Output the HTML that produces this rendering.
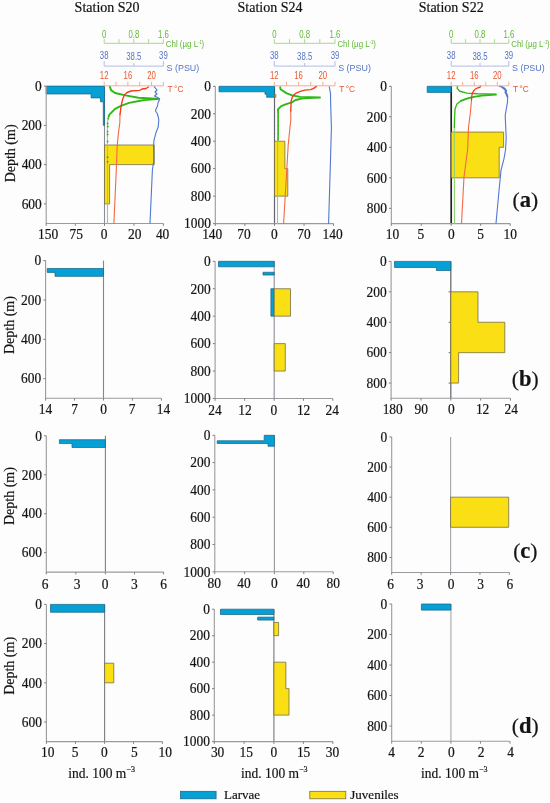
<!DOCTYPE html>
<html><head><meta charset="utf-8"><title>Figure</title>
<style>html,body{margin:0;padding:0;background:#fdfdfd;} svg{display:block;}</style>
</head><body>
<svg width="550" height="803" viewBox="0 0 550 803">
<style>
text{font-family:'Liberation Serif','Times New Roman',serif;fill:#141414;stroke:#141414;stroke-width:0.2px;}
.n{font-size:14px;}
.m{text-anchor:middle;}
.e{text-anchor:end;}
.c{font-family:'Liberation Sans',Arial,sans-serif;stroke:none;font-size:10.8px;}
.g{fill:#5fb834;} .b{fill:#5474c4;} .r{fill:#e9552e;}
.ax{stroke:#9a9a9e;stroke-width:1.1;fill:none;}
.tk{stroke:#808086;stroke-width:1;}
.bl{fill:#05a0d5;stroke:#1b6585;stroke-width:0.75;}
.ye{fill:#f9df14;stroke:#6f6845;stroke-width:0.75;}
.pl{fill:none;stroke-linejoin:round;stroke-linecap:round;}
</style>
<rect width="550" height="803" fill="#fdfdfd"/>
<text class="n m" x="107.1" y="11.9">Station S20</text>
<text class="n m" x="270.0" y="11.9">Station S24</text>
<text class="n m" x="451.2" y="11.9">Station S22</text>
<path d="M104.5 86.1V223.5" stroke="#8c8c98" stroke-width="1.1"/>
<polygon class="bl" points="104.5,86.1 46.2,86.1 46.2,93.95 91.1,93.95 91.1,97.88 100.4,97.88 100.4,101.8 103.3,101.8 103.3,125.36 104.5,125.36"/>
<polygon class="ye" points="104.5,144.99 154.3,144.99 154.3,164.61 109.6,164.61 109.6,203.87 104.5,203.87"/>
<path class="ax" d="M46.2 86.1V223.5H163.4"/>
<text class="n e" transform="translate(41.8 90.9) scale(0.96 1)">0</text>
<text class="n e" transform="translate(41.8 130.16) scale(0.96 1)">200</text>
<text class="n e" transform="translate(41.8 169.41) scale(0.96 1)">400</text>
<text class="n e" transform="translate(41.8 208.67) scale(0.96 1)">600</text>
<path class="tk" d="M43.9 86.1H46.2M43.9 125.36H46.2M43.9 164.61H46.2M43.9 203.87H46.2M46.2 223.5V225.8M75.35 223.5V225.8M104.5 223.5V225.8M133.95 223.5V225.8M163.4 223.5V225.8"/>
<text class="n m" transform="translate(48.1 239) scale(0.96 1)">150</text>
<text class="n m" transform="translate(76.2 239) scale(0.96 1)">75</text>
<text class="n m" transform="translate(104.2 239) scale(0.96 1)">0</text>
<text class="n m" transform="translate(134.8 239) scale(0.96 1)">20</text>
<text class="n m" transform="translate(162.6 239) scale(0.96 1)">40</text>
<path d="M274.5 86.3V223.6" stroke="#67636e" stroke-width="1.2"/>
<polygon class="bl" points="274.5,86.3 219,86.3 219,91.79 265,91.79 265,94.26 266.7,94.26 266.7,97.28 274.5,97.28"/>
<polygon class="ye" points="274.5,94.54 275.9,94.54 275.9,97.28 274.5,97.28"/>
<polygon class="ye" points="274.5,141.22 284.9,141.22 284.9,168.68 287.8,168.68 287.8,196.14 274.5,196.14"/>
<path class="ax" d="M215.3 86.3V223.6H333.6"/>
<text class="n e" transform="translate(210.9 91.1) scale(0.96 1)">0</text>
<text class="n e" transform="translate(210.9 118.56) scale(0.96 1)">200</text>
<text class="n e" transform="translate(210.9 146.02) scale(0.96 1)">400</text>
<text class="n e" transform="translate(210.9 173.48) scale(0.96 1)">600</text>
<text class="n e" transform="translate(210.9 200.94) scale(0.96 1)">800</text>
<text class="n e" transform="translate(210.9 228.4) scale(0.96 1)">1000</text>
<path class="tk" d="M213 86.3H215.3M213 113.76H215.3M213 141.22H215.3M213 168.68H215.3M213 196.14H215.3M213 223.6H215.3M215.3 223.6V225.9M244.9 223.6V225.9M274.5 223.6V225.9M304.05 223.6V225.9M333.6 223.6V225.9"/>
<text class="n m" transform="translate(212.2 239) scale(0.96 1)">140</text>
<text class="n m" transform="translate(244 239) scale(0.96 1)">70</text>
<text class="n m" transform="translate(274.3 239) scale(0.96 1)">0</text>
<text class="n m" transform="translate(304 239) scale(0.96 1)">70</text>
<text class="n m" transform="translate(332.6 239) scale(0.96 1)">140</text>
<path d="M451.2 86.3V223.6" stroke="#222228" stroke-width="1.7"/>
<polygon class="bl" points="451.2,86.3 427.2,86.3 427.2,92.4 451.2,92.4"/>
<polygon class="ye" points="451.2,132.07 503.6,132.07 503.6,147.32 499.2,147.32 499.2,177.83 451.2,177.83"/>
<path class="ax" d="M391.3 86.3V223.6H510.2"/>
<text class="n e" transform="translate(386.9 91.1) scale(0.96 1)">0</text>
<text class="n e" transform="translate(386.9 121.61) scale(0.96 1)">200</text>
<text class="n e" transform="translate(386.9 152.12) scale(0.96 1)">400</text>
<text class="n e" transform="translate(386.9 182.63) scale(0.96 1)">600</text>
<text class="n e" transform="translate(386.9 213.14) scale(0.96 1)">800</text>
<path class="tk" d="M389 86.3H391.3M389 116.81H391.3M389 147.32H391.3M389 177.83H391.3M389 208.34H391.3M391.3 223.6V225.9M421.25 223.6V225.9M451.2 223.6V225.9M480.7 223.6V225.9M510.2 223.6V225.9"/>
<text class="n m" transform="translate(392.5 239.2) scale(0.96 1)">10</text>
<text class="n m" transform="translate(420.8 239.2) scale(0.96 1)">5</text>
<text class="n m" transform="translate(451.3 239.2) scale(0.96 1)">0</text>
<text class="n m" transform="translate(480.7 239.2) scale(0.96 1)">5</text>
<text class="n m" transform="translate(510.3 239.2) scale(0.96 1)">10</text>
<path d="M103.5 260.6V398.3" stroke="#85858c" stroke-width="1.1"/>
<polygon class="bl" points="103.5,268.47 47.2,268.47 47.2,272.4 55,272.4 55,276.34 103.5,276.34"/>
<path class="ax" d="M45.6 260.6V398.3H161.4"/>
<text class="n e" transform="translate(41.2 265.4) scale(0.96 1)">0</text>
<text class="n e" transform="translate(41.2 304.74) scale(0.96 1)">200</text>
<text class="n e" transform="translate(41.2 344.09) scale(0.96 1)">400</text>
<text class="n e" transform="translate(41.2 383.43) scale(0.96 1)">600</text>
<path class="tk" d="M43.3 260.6H45.6M43.3 299.94H45.6M43.3 339.29H45.6M43.3 378.63H45.6M45.6 398.3V400.6M74.55 398.3V400.6M103.5 398.3V400.6M132.45 398.3V400.6M161.4 398.3V400.6"/>
<text class="n m" transform="translate(45.4 414.4) scale(0.96 1)">14</text>
<text class="n m" transform="translate(74.6 414.4) scale(0.96 1)">7</text>
<text class="n m" transform="translate(103.6 414.4) scale(0.96 1)">0</text>
<text class="n m" transform="translate(132.1 414.4) scale(0.96 1)">7</text>
<text class="n m" transform="translate(163.4 414.4) scale(0.96 1)">14</text>
<path d="M274.2 261.3V398.5" stroke="#8e8e98" stroke-width="1.1"/>
<polygon class="bl" points="274.2,261.3 218.5,261.3 218.5,266.79 274.2,266.79"/>
<polygon class="bl" points="274.2,272.28 263,272.28 263,275.02 274.2,275.02"/>
<polygon class="bl" points="274.2,288.74 270.9,288.74 270.9,316.18 274.2,316.18"/>
<polygon class="ye" points="274.2,288.74 290.5,288.74 290.5,316.18 274.2,316.18"/>
<polygon class="ye" points="274.2,343.62 285.3,343.62 285.3,371.06 274.2,371.06"/>
<path class="ax" d="M215.1 261.3V398.5H332.8"/>
<text class="n e" transform="translate(210.7 266.1) scale(0.96 1)">0</text>
<text class="n e" transform="translate(210.7 293.54) scale(0.96 1)">200</text>
<text class="n e" transform="translate(210.7 320.98) scale(0.96 1)">400</text>
<text class="n e" transform="translate(210.7 348.42) scale(0.96 1)">600</text>
<text class="n e" transform="translate(210.7 375.86) scale(0.96 1)">800</text>
<text class="n e" transform="translate(210.7 403.3) scale(0.96 1)">1000</text>
<path class="tk" d="M212.8 261.3H215.1M212.8 288.74H215.1M212.8 316.18H215.1M212.8 343.62H215.1M212.8 371.06H215.1M212.8 398.5H215.1M215.1 398.5V400.8M244.65 398.5V400.8M274.2 398.5V400.8M303.5 398.5V400.8M332.8 398.5V400.8"/>
<text class="n m" transform="translate(215 414.6) scale(0.96 1)">24</text>
<text class="n m" transform="translate(245 414.6) scale(0.96 1)">12</text>
<text class="n m" transform="translate(273.8 414.6) scale(0.96 1)">0</text>
<text class="n m" transform="translate(303.6 414.6) scale(0.96 1)">12</text>
<text class="n m" transform="translate(332.2 414.6) scale(0.96 1)">24</text>
<path d="M450.8 261.4V398.3" stroke="#6c6c74" stroke-width="1.3"/>
<path d="M448.6 291.82H450.8M448.6 322.24H450.8M448.6 352.67H450.8M448.6 383.09H450.8" stroke="#6c6c74" stroke-width="1"/>
<polygon class="bl" points="450.8,261.4 394.5,261.4 394.5,267.48 436.4,267.48 436.4,270.53 450.8,270.53"/>
<polygon class="ye" points="450.8,291.82 478,291.82 478,322.24 504.8,322.24 504.8,352.67 458.6,352.67 458.6,383.09 450.8,383.09"/>
<path class="ax" d="M391.1 261.4V398.3H510.5"/>
<text class="n e" transform="translate(386.7 266.2) scale(0.96 1)">0</text>
<text class="n e" transform="translate(386.7 296.62) scale(0.96 1)">200</text>
<text class="n e" transform="translate(386.7 327.04) scale(0.96 1)">400</text>
<text class="n e" transform="translate(386.7 357.47) scale(0.96 1)">600</text>
<text class="n e" transform="translate(386.7 387.89) scale(0.96 1)">800</text>
<path class="tk" d="M388.8 261.4H391.1M388.8 291.82H391.1M388.8 322.24H391.1M388.8 352.67H391.1M388.8 383.09H391.1M391.1 398.3V400.6M420.95 398.3V400.6M450.8 398.3V400.6M480.65 398.3V400.6M510.5 398.3V400.6"/>
<text class="n m" transform="translate(392.7 414.4) scale(0.96 1)">180</text>
<text class="n m" transform="translate(421.3 414.4) scale(0.96 1)">90</text>
<text class="n m" transform="translate(451.3 414.4) scale(0.96 1)">0</text>
<text class="n m" transform="translate(482.6 414.4) scale(0.96 1)">12</text>
<text class="n m" transform="translate(511.2 414.4) scale(0.96 1)">24</text>
<path d="M105.4 435.8V572.1" stroke="#808084" stroke-width="1.1"/>
<polygon class="bl" points="105.4,439.69 59.4,439.69 59.4,443.59 72,443.59 72,447.48 105.4,447.48"/>
<path class="ax" d="M46.3 435.8V572.1H163.6"/>
<text class="n e" transform="translate(41.9 440.6) scale(0.96 1)">0</text>
<text class="n e" transform="translate(41.9 479.54) scale(0.96 1)">200</text>
<text class="n e" transform="translate(41.9 518.49) scale(0.96 1)">400</text>
<text class="n e" transform="translate(41.9 557.43) scale(0.96 1)">600</text>
<path class="tk" d="M44 435.8H46.3M44 474.74H46.3M44 513.69H46.3M44 552.63H46.3M46.3 572.1V574.4M75.85 572.1V574.4M105.4 572.1V574.4M134.5 572.1V574.4M163.6 572.1V574.4"/>
<text class="n m" transform="translate(45 588.7) scale(0.96 1)">6</text>
<text class="n m" transform="translate(77 588.7) scale(0.96 1)">3</text>
<text class="n m" transform="translate(105.1 588.7) scale(0.96 1)">0</text>
<text class="n m" transform="translate(134.3 588.7) scale(0.96 1)">3</text>
<text class="n m" transform="translate(163.7 588.7) scale(0.96 1)">6</text>
<path d="M274.4 435.3V571.8" stroke="#969698" stroke-width="1.1"/>
<polygon class="bl" points="274.4,435.3 264.2,435.3 264.2,440.76 217.2,440.76 217.2,443.49 268,443.49 268,446.22 274.4,446.22"/>
<path class="ax" d="M214.8 435.3V571.8H333.2"/>
<text class="n e" transform="translate(210.4 440.1) scale(0.96 1)">0</text>
<text class="n e" transform="translate(210.4 467.4) scale(0.96 1)">200</text>
<text class="n e" transform="translate(210.4 494.7) scale(0.96 1)">400</text>
<text class="n e" transform="translate(210.4 522) scale(0.96 1)">600</text>
<text class="n e" transform="translate(210.4 549.3) scale(0.96 1)">800</text>
<text class="n e" transform="translate(210.4 576.6) scale(0.96 1)">1000</text>
<path class="tk" d="M212.5 435.3H214.8M212.5 462.6H214.8M212.5 489.9H214.8M212.5 517.2H214.8M212.5 544.5H214.8M212.5 571.8H214.8M214.8 571.8V574.1M244.6 571.8V574.1M274.4 571.8V574.1M303.8 571.8V574.1M333.2 571.8V574.1"/>
<text class="n m" transform="translate(214.2 588.3) scale(0.96 1)">80</text>
<text class="n m" transform="translate(244 588.3) scale(0.96 1)">40</text>
<text class="n m" transform="translate(274.3 588.3) scale(0.96 1)">0</text>
<text class="n m" transform="translate(303.3 588.3) scale(0.96 1)">40</text>
<text class="n m" transform="translate(333.2 588.3) scale(0.96 1)">80</text>
<path d="M450.6 436.9V572.5" stroke="#a4a4a8" stroke-width="1.1"/>
<polygon class="ye" points="450.6,497.17 508.7,497.17 508.7,527.3 450.6,527.3"/>
<path class="ax" d="M391.7 436.9V572.5H509.3"/>
<text class="n e" transform="translate(387.3 441.7) scale(0.96 1)">0</text>
<text class="n e" transform="translate(387.3 471.83) scale(0.96 1)">200</text>
<text class="n e" transform="translate(387.3 501.97) scale(0.96 1)">400</text>
<text class="n e" transform="translate(387.3 532.1) scale(0.96 1)">600</text>
<text class="n e" transform="translate(387.3 562.23) scale(0.96 1)">800</text>
<path class="tk" d="M389.4 436.9H391.7M389.4 467.03H391.7M389.4 497.17H391.7M389.4 527.3H391.7M389.4 557.43H391.7M391.7 572.5V574.8M421.15 572.5V574.8M450.6 572.5V574.8M479.95 572.5V574.8M509.3 572.5V574.8"/>
<text class="n m" transform="translate(390.7 588.7) scale(0.96 1)">6</text>
<text class="n m" transform="translate(420.2 588.7) scale(0.96 1)">3</text>
<text class="n m" transform="translate(451.2 588.7) scale(0.96 1)">0</text>
<text class="n m" transform="translate(480.7 588.7) scale(0.96 1)">3</text>
<text class="n m" transform="translate(509.8 588.7) scale(0.96 1)">6</text>
<path d="M104.6 604.4V741.6" stroke="#7c7c84" stroke-width="1.1"/>
<polygon class="bl" points="104.6,604.4 50.5,604.4 50.5,612.24 104.6,612.24"/>
<polygon class="ye" points="104.6,663.2 113.8,663.2 113.8,682.8 104.6,682.8"/>
<path class="ax" d="M46.4 604.4V741.6H162.4"/>
<text class="n e" transform="translate(42 609.2) scale(0.96 1)">0</text>
<text class="n e" transform="translate(42 648.4) scale(0.96 1)">200</text>
<text class="n e" transform="translate(42 687.6) scale(0.96 1)">400</text>
<text class="n e" transform="translate(42 726.8) scale(0.96 1)">600</text>
<path class="tk" d="M44.1 604.4H46.4M44.1 643.6H46.4M44.1 682.8H46.4M44.1 722H46.4M46.4 741.6V743.9M75.5 741.6V743.9M104.6 741.6V743.9M133.5 741.6V743.9M162.4 741.6V743.9"/>
<text class="n m" transform="translate(47.7 756.8) scale(0.96 1)">10</text>
<text class="n m" transform="translate(75.1 756.8) scale(0.96 1)">5</text>
<text class="n m" transform="translate(104.3 756.8) scale(0.96 1)">0</text>
<text class="n m" transform="translate(134.3 756.8) scale(0.96 1)">5</text>
<text class="n m" transform="translate(165.2 756.8) scale(0.96 1)">10</text>
<path d="M273.9 609.2V741.6" stroke="#8a8a90" stroke-width="1.3"/>
<polygon class="bl" points="273.9,609.2 220.5,609.2 220.5,614.5 273.9,614.5"/>
<polygon class="bl" points="273.9,617.14 257.7,617.14 257.7,620.06 273.9,620.06"/>
<polygon class="ye" points="273.9,622.44 278.6,622.44 278.6,635.68 273.9,635.68"/>
<polygon class="ye" points="273.9,662.16 285.9,662.16 285.9,688.64 289,688.64 289,715.12 273.9,715.12"/>
<path class="ax" d="M214.3 609.2V741.6H332.9"/>
<text class="n e" transform="translate(209.9 614) scale(0.96 1)">0</text>
<text class="n e" transform="translate(209.9 640.48) scale(0.96 1)">200</text>
<text class="n e" transform="translate(209.9 666.96) scale(0.96 1)">400</text>
<text class="n e" transform="translate(209.9 693.44) scale(0.96 1)">600</text>
<text class="n e" transform="translate(209.9 719.92) scale(0.96 1)">800</text>
<text class="n e" transform="translate(209.9 746.4) scale(0.96 1)">1000</text>
<path class="tk" d="M212 609.2H214.3M212 635.68H214.3M212 662.16H214.3M212 688.64H214.3M212 715.12H214.3M212 741.6H214.3M214.3 741.6V743.9M244.1 741.6V743.9M273.9 741.6V743.9M303.4 741.6V743.9M332.9 741.6V743.9"/>
<text class="n m" transform="translate(217.6 756.8) scale(0.96 1)">30</text>
<text class="n m" transform="translate(246.3 756.8) scale(0.96 1)">15</text>
<text class="n m" transform="translate(273.8 756.8) scale(0.96 1)">0</text>
<text class="n m" transform="translate(303.6 756.8) scale(0.96 1)">15</text>
<text class="n m" transform="translate(332.5 756.8) scale(0.96 1)">30</text>
<path d="M450.9 604V741.3" stroke="#b4b4b8" stroke-width="1.3"/>
<polygon class="bl" points="450.9,604 421.4,604 421.4,610.1 450.9,610.1"/>
<path class="ax" d="M391.7 604V741.3H510"/>
<text class="n e" transform="translate(387.3 608.8) scale(0.96 1)">0</text>
<text class="n e" transform="translate(387.3 639.31) scale(0.96 1)">200</text>
<text class="n e" transform="translate(387.3 669.82) scale(0.96 1)">400</text>
<text class="n e" transform="translate(387.3 700.33) scale(0.96 1)">600</text>
<text class="n e" transform="translate(387.3 730.84) scale(0.96 1)">800</text>
<path class="tk" d="M389.4 604H391.7M389.4 634.51H391.7M389.4 665.02H391.7M389.4 695.53H391.7M389.4 726.04H391.7M391.7 741.3V743.6M421.3 741.3V743.6M450.9 741.3V743.6M480.45 741.3V743.6M510 741.3V743.6"/>
<text class="n m" transform="translate(391.5 757) scale(0.96 1)">4</text>
<text class="n m" transform="translate(421 757) scale(0.96 1)">2</text>
<text class="n m" transform="translate(451.3 757) scale(0.96 1)">0</text>
<text class="n m" transform="translate(481 757) scale(0.96 1)">2</text>
<text class="n m" transform="translate(510.7 757) scale(0.96 1)">4</text>
<text class="n m" transform="translate(15.2 153.4) rotate(-90)">Depth (m)</text>
<text class="n m" transform="translate(13.8 325.1) rotate(-90)">Depth (m)</text>
<text class="n m" transform="translate(13.8 496.1) rotate(-90)">Depth (m)</text>
<text class="n m" transform="translate(13.8 665.9) rotate(-90)">Depth (m)</text>
<text class="m" x="525.3" y="207.3" style="font-size:21.5px">(<tspan style="font-weight:bold;font-size:22.5px">a</tspan>)</text>
<text class="m" x="525.3" y="386.3" style="font-size:21.5px">(<tspan style="font-weight:bold;font-size:22.5px">b</tspan>)</text>
<text class="m" x="525.3" y="557.6" style="font-size:21.5px">(<tspan style="font-weight:bold;font-size:22.5px">c</tspan>)</text>
<text class="m" x="525.3" y="732.8" style="font-size:21.5px">(<tspan style="font-weight:bold;font-size:22.5px">d</tspan>)</text>
<text class="m" transform="translate(101.6 778.2) scale(0.9 1)" style="font-size:15px">ind. 100 m<tspan dy="-6" style="font-size:9px">−3</tspan></text>
<text class="m" transform="translate(274.3 778.2) scale(0.9 1)" style="font-size:15px">ind. 100 m<tspan dy="-6" style="font-size:9px">−3</tspan></text>
<text class="m" transform="translate(454.3 778.2) scale(0.9 1)" style="font-size:15px">ind. 100 m<tspan dy="-6" style="font-size:9px">−3</tspan></text>
<rect class="bl" x="180.6" y="791.3" width="35.5" height="7.5"/>
<text x="224" y="798.8" style="font-size:13px">Larvae</text>
<rect class="ye" x="309.8" y="791.3" width="36" height="7.5"/>
<text x="350.3" y="799.2" style="font-size:13px">Juveniles</text>
<polyline class="pl" points="107.5,223.3 107.5,150 107.4,128 107.6,121.6 108.6,116.5" stroke="#8fd272" stroke-width="1.1" />
<circle cx="107.6" cy="123.5" r="0.95" fill="#2eb814"/>
<circle cx="107.6" cy="131.6" r="0.95" fill="#2eb814"/>
<circle cx="107.6" cy="134.5" r="0.95" fill="#2eb814"/>
<circle cx="107.6" cy="141.5" r="0.95" fill="#2eb814"/>
<circle cx="107.6" cy="157.2" r="0.95" fill="#2eb814"/>
<circle cx="107.6" cy="161.7" r="0.95" fill="#2eb814"/>
<circle cx="108.2" cy="118.5" r="0.95" fill="#2eb814"/>
<circle cx="107.8" cy="126.5" r="0.95" fill="#2eb814"/>
<polyline class="pl" points="108.6,116.5 109.6,114.3 111.6,112.3 115.1,108.8 120.9,105.9 129.1,102.9 144.2,100 159.3,98.9 138.4,97.7 125.6,95.4 115.1,93 111,90.1 109.9,86.7" stroke="#2eb814" stroke-width="1.9" />
<polyline class="pl" points="113.9,223.3 116.3,170 117.2,145.6 118.6,131.6 119.8,123 120,114.6" stroke="#f26a45" stroke-width="1.1" />
<polyline class="pl" points="120,114.6 120.9,107.5 122,102 123,98.3 124.5,95 127,92.5 131,91 140,90.3 142,89 146,88.5 148.5,87" stroke="#f03c1a" stroke-width="1.35" />
<polyline class="pl" points="150,223.3 152.4,170 153.8,160.7 153.5,145.6 154.1,139.8 155.9,132.8 158.2,127 158.8,120 158.3,117 157,113 155.5,111 156,109 157.5,106 158,103 159.5,99.5 158.5,98 154.5,96 157,94 155,92 157,90 154.1,86.7" stroke="#5177d0" stroke-width="1.1" />
<polyline class="pl" points="277.5,223.5 277.6,140" stroke="#8fd272" stroke-width="1.1" />
<polyline class="pl" points="278.1,139.8 278.1,110.5" stroke="#2eb814" stroke-width="1.7" stroke-dasharray="3.2 1.1"/>
<polyline class="pl" points="278.1,110.5 277.9,109.5 281.2,106.2 286.8,103.9 292,102.3 295.6,100 302.6,98.3 320,97.5 300.3,96.9 292.1,95.4 286.3,93.1 282.8,90.7 280.5,89.2 280.2,87.2" stroke="#2eb814" stroke-width="1.9" />
<polyline class="pl" points="283.6,223.5 288.2,145 289.9,128 290.8,120 290.7,111.1" stroke="#f26a45" stroke-width="1.1" />
<polyline class="pl" points="290.7,111.1 291.2,100.6 292.1,97.7 293.9,94.8 296.2,93.1 300.3,91.3 304.9,90.1 310.7,89.6 313.6,88.4 316.5,86.4" stroke="#f03c1a" stroke-width="1.35" />
<polyline class="pl" points="328.6,223.5 330.5,160 331.4,127.4 330.7,105.3 330.5,93.6 329.9,90.1 329.3,86.7" stroke="#5177d0" stroke-width="1.1" />
<polyline class="pl" points="454.5,223.3 454.3,127.4" stroke="#8fd272" stroke-width="1.1" />
<polyline class="pl" points="454.3,127.4 454.6,116.9 455.1,108.8 456.9,104.1 461,100.8" stroke="#2eb814" stroke-width="1.3" />
<polyline class="pl" points="461,100.8 466.8,98.6 473.8,96.9 481.9,95.6 495.9,94.6" stroke="#2eb814" stroke-width="1.9" />
<polyline class="pl" points="495.9,94.3 477.3,93.7 466.8,93.1 459.8,91.3 457.2,88.4 457.5,86.4" stroke="#2eb814" stroke-width="1.4" />
<polyline class="pl" points="461.5,223.3 464,177 466.2,160 467.6,150 468.5,127.4 470.3,113.4 471.5,100" stroke="#f26a45" stroke-width="1.1" />
<polyline class="pl" points="471.5,100 471.8,96 472.3,93.4 473.6,91 475,89.3 477,88.2 479.8,87.4 480.5,86.1" stroke="#f03c1a" stroke-width="1.3" />
<polyline class="pl" points="496,223.3 499,190.7 501,170.4 504,158.7 505.5,150 506.2,138 505.2,115.7 506.3,108.8 507.5,101.8 507.7,97.1 506.9,94.8 505.8,92.5 506.3,90.7 504,89 502.3,86.9 499.4,86.4" stroke="#5177d0" stroke-width="1.1" />
<polyline class="pl" points="502.3,87.2 504.5,88.6 506,90.5 505.4,92.2 506.6,94.2 507.4,96.5" stroke="#5177d0" stroke-width="1.9" />
<path d="M104.2 43.3H163.4M104.2 43.3V39.1M119 43.3V39.1M133.8 43.3V39.1M148.6 43.3V39.1M163.4 43.3V39.1" stroke="#a6da8c" stroke-width="1" fill="none"/>
<text class="c g m" transform="translate(104.2 37.9) scale(0.72 1)">0</text>
<text class="c g m" transform="translate(133.8 37.9) scale(0.72 1)">0.8</text>
<text class="c g m" transform="translate(163.4 37.9) scale(0.72 1)">1.6</text>
<text class="c g" transform="translate(165.8 47.2) scale(0.86 1)" style="font-size:9.2px">Chl (µg L<tspan dy="-3.6" style="font-size:5px">-1</tspan><tspan dy="3.6" dx="-0.3">)</tspan></text>
<path d="M104.2 66.1H163.4M104.2 66.1V61.1M133.8 66.1V63.1M163.4 66.1V61.1" stroke="#b0bee5" stroke-width="1" fill="none"/>
<text class="c b m" transform="translate(104.2 58.7) scale(0.72 1)">38</text>
<text class="c b m" transform="translate(133.8 60.1) scale(0.72 1)">38.5</text>
<text class="c b m" transform="translate(163.4 58.7) scale(0.72 1)">39</text>
<text class="c b" transform="translate(166.6 71.3) scale(0.97 1)" style="font-size:9.2px">S (PSU)</text>
<path d="M104.2 85.8H163.4M104.2 85.8V81.8M116.04 85.8V81.8M127.88 85.8V81.8M139.72 85.8V81.8M151.56 85.8V81.8M163.4 85.8V81.8" stroke="#f5ac96" stroke-width="1" fill="none"/>
<text class="c r m" transform="translate(104.2 79.4) scale(0.72 1)">12</text>
<text class="c r m" transform="translate(127.88 79.4) scale(0.72 1)">16</text>
<text class="c r m" transform="translate(151.56 79.4) scale(0.72 1)">20</text>
<text class="c r" transform="translate(167.6 91.7) scale(0.9 1)" style="font-size:9.2px">T<tspan dx="-1"> °C</tspan></text>
<path d="M274.3 43.3H335M274.3 43.3V39.1M289.48 43.3V39.1M304.65 43.3V39.1M319.82 43.3V39.1M335 43.3V39.1" stroke="#a6da8c" stroke-width="1" fill="none"/>
<text class="c g m" transform="translate(274.3 37.9) scale(0.72 1)">0</text>
<text class="c g m" transform="translate(304.65 37.9) scale(0.72 1)">0.8</text>
<text class="c g m" transform="translate(335 37.9) scale(0.72 1)">1.6</text>
<text class="c g" transform="translate(337.4 47.2) scale(0.86 1)" style="font-size:9.2px">Chl (µg L<tspan dy="-3.6" style="font-size:5px">-1</tspan><tspan dy="3.6" dx="-0.3">)</tspan></text>
<path d="M274.3 66.1H335M274.3 66.1V61.1M304.65 66.1V63.1M335 66.1V61.1" stroke="#b0bee5" stroke-width="1" fill="none"/>
<text class="c b m" transform="translate(274.3 58.7) scale(0.72 1)">38</text>
<text class="c b m" transform="translate(304.65 60.1) scale(0.72 1)">38.5</text>
<text class="c b m" transform="translate(335 58.7) scale(0.72 1)">39</text>
<text class="c b" transform="translate(338.2 71.3) scale(0.97 1)" style="font-size:9.2px">S (PSU)</text>
<path d="M274.3 85.8H335M274.3 85.8V81.8M286.44 85.8V81.8M298.58 85.8V81.8M310.72 85.8V81.8M322.86 85.8V81.8M335 85.8V81.8" stroke="#f5ac96" stroke-width="1" fill="none"/>
<text class="c r m" transform="translate(274.3 79.4) scale(0.72 1)">12</text>
<text class="c r m" transform="translate(298.58 79.4) scale(0.72 1)">16</text>
<text class="c r m" transform="translate(322.86 79.4) scale(0.72 1)">20</text>
<text class="c r" transform="translate(339.2 91.7) scale(0.9 1)" style="font-size:9.2px">T<tspan dx="-1"> °C</tspan></text>
<path d="M451.2 43.3H508.8M451.2 43.3V39.1M465.6 43.3V39.1M480 43.3V39.1M494.4 43.3V39.1M508.8 43.3V39.1" stroke="#a6da8c" stroke-width="1" fill="none"/>
<text class="c g m" transform="translate(451.2 37.9) scale(0.72 1)">0</text>
<text class="c g m" transform="translate(480 37.9) scale(0.72 1)">0.8</text>
<text class="c g m" transform="translate(508.8 37.9) scale(0.72 1)">1.6</text>
<text class="c g" transform="translate(511.2 47.2) scale(0.86 1)" style="font-size:9.2px">Chl (µg L<tspan dy="-3.6" style="font-size:5px">-1</tspan><tspan dy="3.6" dx="-0.3">)</tspan></text>
<path d="M451.2 66.1H508.8M451.2 66.1V61.1M480 66.1V63.1M508.8 66.1V61.1" stroke="#b0bee5" stroke-width="1" fill="none"/>
<text class="c b m" transform="translate(451.2 58.7) scale(0.72 1)">38</text>
<text class="c b m" transform="translate(480 60.1) scale(0.72 1)">38.5</text>
<text class="c b m" transform="translate(508.8 58.7) scale(0.72 1)">39</text>
<text class="c b" transform="translate(512 71.3) scale(0.97 1)" style="font-size:9.2px">S (PSU)</text>
<path d="M451.2 85.8H508.8M451.2 85.8V81.8M462.72 85.8V81.8M474.24 85.8V81.8M485.76 85.8V81.8M497.28 85.8V81.8M508.8 85.8V81.8" stroke="#f5ac96" stroke-width="1" fill="none"/>
<text class="c r m" transform="translate(451.2 79.4) scale(0.72 1)">12</text>
<text class="c r m" transform="translate(474.24 79.4) scale(0.72 1)">16</text>
<text class="c r m" transform="translate(497.28 79.4) scale(0.72 1)">20</text>
<text class="c r" transform="translate(513 91.7) scale(0.9 1)" style="font-size:9.2px">T<tspan dx="-1"> °C</tspan></text>
</svg>
</body></html>
